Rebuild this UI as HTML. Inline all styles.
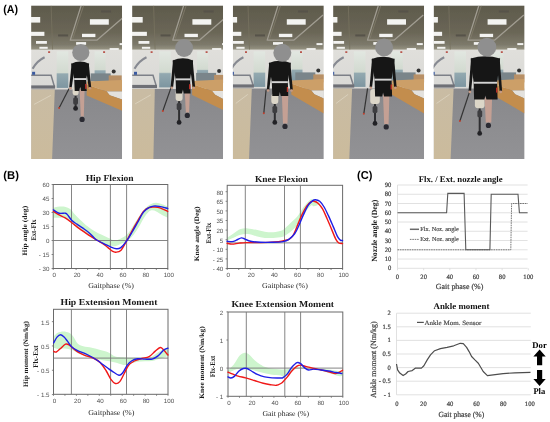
<!DOCTYPE html>
<html><head><meta charset="utf-8"><title>Figure</title>
<style>
html,body{margin:0;padding:0;background:#fff;}
body{width:550px;height:422px;overflow:hidden;position:relative;}
svg{position:absolute;left:0;top:0;display:block;}
text{text-rendering:geometricPrecision;}
</style></head><body>
<svg width="550" height="422" viewBox="0 0 550 422">
<rect width="550" height="422" fill="#fff"/>
<defs><linearGradient id="ceil" x1="0" y1="0" x2="0" y2="1">
<stop offset="0" stop-color="#5e5a4c"/><stop offset="0.6" stop-color="#6a6656"/><stop offset="0.88" stop-color="#7c796a"/><stop offset="1" stop-color="#979483"/></linearGradient>
<linearGradient id="carpet" x1="0" y1="0" x2="0" y2="1">
<stop offset="0" stop-color="#88888b"/><stop offset="1" stop-color="#929295"/></linearGradient>
<linearGradient id="beige" x1="0" y1="0" x2="0" y2="1">
<stop offset="0" stop-color="#c9bca4"/><stop offset="1" stop-color="#cbbb9c"/></linearGradient>
<linearGradient id="wall" x1="0" y1="0" x2="0" y2="1">
<stop offset="0" stop-color="#e0dfdb"/><stop offset="1" stop-color="#d9d9d6"/></linearGradient>
<linearGradient id="win" x1="0" y1="0" x2="0" y2="1">
<stop offset="0" stop-color="#e2e7e1"/><stop offset="0.58" stop-color="#d2dad0"/><stop offset="0.62" stop-color="#93a9b0"/><stop offset="1" stop-color="#7d95a0"/></linearGradient>
<filter id="pblur" x="-5%" y="-5%" width="110%" height="110%"><feGaussianBlur stdDeviation="0.45"/></filter><clipPath id="pc"><rect x="0" y="0" width="91.0" height="153.6"/></clipPath></defs>
<g transform="translate(31.10,5.40)" clip-path="url(#pc)"><g filter="url(#pblur)"><rect x="0" y="0" width="91.0" height="44.4" fill="url(#ceil)"/><path d="M20,0 L21.5,44.4" stroke="#77725f" stroke-width="0.8" fill="none"/><path d="M50.1,0 L39.2,34.7 L66,34.7 L95,9.5" stroke="#a19d92" stroke-width="1.3" fill="none" stroke-linejoin="round"/><path d="M52.6,0 L41.6,33.2" stroke="#85806f" stroke-width="0.7" fill="none"/><rect x="-2.0" y="11.6" width="11.1" height="5.6" fill="#f3f3f1"/><rect x="58.8" y="13.8" width="18.9" height="5.5" fill="#f3f3f1"/><rect x="-2.0" y="26.4" width="15.3" height="4.1" fill="#f3f3f1"/><rect x="50.9" y="28.4" width="13.4" height="3.3" fill="#f3f3f1"/><rect x="4.9" y="35.6" width="10.9" height="2.8" fill="#f3f3f1"/><rect x="45.0" y="36.7" width="10" height="2.7" fill="#f3f3f1"/><rect x="8.3" y="41.4" width="8.3" height="2.0" fill="#f3f3f1"/><rect x="78.5" y="42.7" width="9.2" height="2.1" fill="#f3f3f1"/><rect x="88.5" y="37.7" width="6" height="2.0" fill="#f3f3f1"/><rect x="70" y="5" width="10" height="2" fill="#56524a"/><rect x="27" y="29" width="10" height="2" fill="#56524a"/><rect x="0" y="44.4" width="91.0" height="39.6" fill="url(#wall)"/><rect x="25.6" y="45.9" width="11.6" height="36.6" fill="url(#win)"/><rect x="63.5" y="45.9" width="11" height="31.6" fill="url(#win)"/><rect x="17" y="45.9" width="2" height="1.6" fill="#b5473e"/><rect x="72" y="45.9" width="2" height="1.6" fill="#b5473e"/><path d="M1.5,63.4 Q6.0,55.4 13.5,51.9" stroke="#878a92" stroke-width="2.2" fill="none"/><path d="M0,69.9 L20.0,69.9 L23.4,81.5" stroke="#7d8088" stroke-width="1.5" fill="none"/><rect x="0" y="80.0" width="24.0" height="3.2" fill="#6e7076"/><rect x="1.0" y="66.4" width="3" height="3" fill="#3a5aa0"/><rect x="0" y="84.0" width="91.0" height="69.6" fill="url(#carpet)"/><path d="M0,84.0 L23.7,84.0 L21.0,153.6 L0,153.6 Z" fill="url(#beige)"/><path d="M3,99.0 L19.7,90.0" stroke="#ddd4c2" stroke-width="0.8"/><rect x="59.6" y="68.0" width="20" height="8" fill="#7a858a"/><rect x="77.6" y="70.0" width="13" height="8" fill="#b89066"/><circle cx="82.6" cy="66.0" r="2" fill="#333"/><path d="M55.6,76.0 L91.0,74.5 L91.0,86.0 L75.6,86.0 L55.6,79.0 Z" fill="#cc9f68"/><path d="M75.6,86.0 L91.0,86.0 L91.0,94.0 L78.6,89.8 Z" fill="#e3e1dd"/><path d="M55.6,79.0 L75.6,86.0 L78.6,89.8 L91.0,94.0 L91.0,105.4 L55.6,90.0 Z" fill="#c38d4d"/><line x1="38.0" y1="83.0" x2="28.0" y2="102.6" stroke="#333" stroke-width="1.2"/><circle cx="28.0" cy="102.6" r="1.0" fill="#c4412e"/><rect x="43.5" y="90.0" width="2.0" height="13.0" fill="#2e2e30"/><rect x="42.1" y="92.0" width="4.8" height="7" rx="1.5" fill="#3d3d40"/><ellipse cx="44.5" cy="103.0" rx="2.4" ry="2.4" fill="#232326"/><rect x="41.5" y="80.5" width="6.0" height="9.5" rx="3" fill="#dcd6c8"/><path d="M48.5,83.5 L53.5,83.5 L52.7,111.0 L49.7,111.0 Z" fill="#c4a094"/><ellipse cx="51.0" cy="114.0" rx="2.6" ry="2.6" fill="#2a2a30"/><path d="M43.1,73.5 L55.1,73.5 L55.6,85.5 L50.1,85.5 L49.1,81.5 L48.1,85.5 L43.6,85.5 Z" fill="#161616"/><rect x="54.1" y="78.5" width="1.3" height="5" fill="#c8302a"/><path d="M40.6,57.3 L38.1,82.0 L40.6,82.0 L43.1,65.3 Z" fill="#171717"/><path d="M57.6,57.3 L60.1,82.0 L57.6,82.0 L55.1,65.3 Z" fill="#171717"/><circle cx="39.4" cy="82.8" r="1.3" fill="#c49a86"/><circle cx="58.8" cy="82.8" r="1.3" fill="#c49a86"/><path d="M40.1,58.3 Q49.1,53.8 58.1,58.3 L55.1,73.5 L43.1,73.5 Z" fill="#171717"/><rect x="43.1" y="72.7" width="12.0" height="1.9" fill="#d4d4d4"/><circle cx="49.7" cy="47.1" r="8.6" fill="#8f8f8f"/></g></g>
<g transform="translate(132.10,5.40)" clip-path="url(#pc)"><g filter="url(#pblur)"><rect x="0" y="0" width="91.0" height="44.4" fill="url(#ceil)"/><path d="M21.5,0 L23.0,44.4" stroke="#77725f" stroke-width="0.8" fill="none"/><path d="M51.6,0 L40.7,34.7 L67.5,34.7 L96.5,9.5" stroke="#a19d92" stroke-width="1.3" fill="none" stroke-linejoin="round"/><path d="M54.1,0 L43.1,33.2" stroke="#85806f" stroke-width="0.7" fill="none"/><rect x="-0.5" y="11.6" width="11.1" height="5.6" fill="#f3f3f1"/><rect x="60.3" y="13.8" width="18.9" height="5.5" fill="#f3f3f1"/><rect x="-0.5" y="26.4" width="15.3" height="4.1" fill="#f3f3f1"/><rect x="52.4" y="28.4" width="13.4" height="3.3" fill="#f3f3f1"/><rect x="6.4" y="35.6" width="10.9" height="2.8" fill="#f3f3f1"/><rect x="46.5" y="36.7" width="10" height="2.7" fill="#f3f3f1"/><rect x="9.8" y="41.4" width="8.3" height="2.0" fill="#f3f3f1"/><rect x="80.0" y="42.7" width="9.2" height="2.1" fill="#f3f3f1"/><rect x="90.0" y="37.7" width="6" height="2.0" fill="#f3f3f1"/><rect x="71.5" y="5" width="10" height="2" fill="#56524a"/><rect x="28.5" y="29" width="10" height="2" fill="#56524a"/><rect x="0" y="44.4" width="91.0" height="39.1" fill="url(#wall)"/><rect x="27.1" y="45.9" width="11.6" height="36.1" fill="url(#win)"/><rect x="65.0" y="45.9" width="11" height="31.1" fill="url(#win)"/><rect x="18.5" y="45.9" width="2" height="1.6" fill="#b5473e"/><rect x="73.5" y="45.9" width="2" height="1.6" fill="#b5473e"/><path d="M2.4,63.4 Q6.9,55.4 14.4,51.9" stroke="#878a92" stroke-width="2.2" fill="none"/><path d="M0,69.9 L20.9,69.9 L24.299999999999997,81.0" stroke="#7d8088" stroke-width="1.5" fill="none"/><rect x="0" y="79.5" width="24.9" height="3.2" fill="#6e7076"/><rect x="1.9" y="66.4" width="3" height="3" fill="#3a5aa0"/><rect x="0" y="83.5" width="91.0" height="70.1" fill="url(#carpet)"/><path d="M0,83.5 L22.7,83.5 L21.3,153.6 L0,153.6 Z" fill="url(#beige)"/><path d="M3,98.5 L18.7,89.5" stroke="#ddd4c2" stroke-width="0.8"/><rect x="64.0" y="67.5" width="20" height="8" fill="#7a858a"/><rect x="82.0" y="69.5" width="13" height="8" fill="#b89066"/><circle cx="87.0" cy="65.5" r="2" fill="#333"/><path d="M60.0,75.5 L91.0,74.0 L91.0,85.5 L80.0,85.5 L60.0,78.5 Z" fill="#cc9f68"/><path d="M80.0,85.5 L91.0,85.5 L91.0,93.5 L83.0,89.3 Z" fill="#e3e1dd"/><path d="M60.0,78.5 L80.0,85.5 L83.0,89.3 L91.0,93.5 L91.0,104.5 L60.0,89.5 Z" fill="#c38d4d"/><line x1="39.2" y1="81.5" x2="30.7" y2="105.6" stroke="#333" stroke-width="1.2"/><circle cx="30.7" cy="105.6" r="1.0" fill="#c4412e"/><rect x="46.0" y="95.7" width="2.0" height="21.3" fill="#2e2e30"/><rect x="44.6" y="97.7" width="4.8" height="7" rx="1.5" fill="#3d3d40"/><ellipse cx="47.0" cy="117.0" rx="2.4" ry="2.4" fill="#232326"/><rect x="43.5" y="84.3" width="7.0" height="11.4" rx="3" fill="#dcd6c8"/><path d="M52.6,86.0 L57.8,86.0 L57.0,107.0 L53.8,107.0 Z" fill="#c4a094"/><ellipse cx="55.2" cy="110.0" rx="2.6" ry="2.6" fill="#2a2a30"/><path d="M43.5,73.8 L58.0,73.8 L58.5,88.0 L51.8,88.0 L50.8,84.0 L49.8,88.0 L44.0,88.0 Z" fill="#161616"/><rect x="57.0" y="78.8" width="1.3" height="5" fill="#c8302a"/><path d="M41.0,54.0 L38.5,81.5 L41.0,81.5 L43.5,62.0 Z" fill="#171717"/><path d="M60.5,54.0 L63.0,81.5 L60.5,81.5 L58.0,62.0 Z" fill="#171717"/><circle cx="39.8" cy="82.3" r="1.3" fill="#c49a86"/><circle cx="61.7" cy="82.3" r="1.3" fill="#c49a86"/><path d="M40.5,55.0 Q50.8,50.5 61.0,55.0 L58.0,73.8 L43.5,73.8 Z" fill="#171717"/><rect x="43.5" y="73.0" width="14.5" height="1.9" fill="#d4d4d4"/><circle cx="52.0" cy="42.6" r="9.0" fill="#8f8f8f"/></g></g>
<g transform="translate(232.80,5.40)" clip-path="url(#pc)"><g filter="url(#pblur)"><rect x="0" y="0" width="91.0" height="44.4" fill="url(#ceil)"/><path d="M15.2,0 L16.7,44.4" stroke="#77725f" stroke-width="0.8" fill="none"/><path d="M45.300000000000004,0 L34.400000000000006,34.7 L61.2,34.7 L90.2,9.5" stroke="#a19d92" stroke-width="1.3" fill="none" stroke-linejoin="round"/><path d="M47.800000000000004,0 L36.800000000000004,33.2" stroke="#85806f" stroke-width="0.7" fill="none"/><rect x="-6.8" y="11.6" width="11.1" height="5.6" fill="#f3f3f1"/><rect x="54.0" y="13.8" width="18.9" height="5.5" fill="#f3f3f1"/><rect x="-6.8" y="26.4" width="15.3" height="4.1" fill="#f3f3f1"/><rect x="46.1" y="28.4" width="13.4" height="3.3" fill="#f3f3f1"/><rect x="0.1" y="35.6" width="10.9" height="2.8" fill="#f3f3f1"/><rect x="40.2" y="36.7" width="10" height="2.7" fill="#f3f3f1"/><rect x="3.5" y="41.4" width="8.3" height="2.0" fill="#f3f3f1"/><rect x="73.7" y="42.7" width="9.2" height="2.1" fill="#f3f3f1"/><rect x="83.7" y="37.7" width="6" height="2.0" fill="#f3f3f1"/><rect x="65.2" y="5" width="10" height="2" fill="#56524a"/><rect x="22.2" y="29" width="10" height="2" fill="#56524a"/><rect x="0" y="44.4" width="91.0" height="38.6" fill="url(#wall)"/><rect x="20.8" y="45.9" width="11.6" height="35.6" fill="url(#win)"/><rect x="58.7" y="45.9" width="11" height="30.6" fill="url(#win)"/><rect x="12.2" y="45.9" width="2" height="1.6" fill="#b5473e"/><rect x="67.2" y="45.9" width="2" height="1.6" fill="#b5473e"/><path d="M-1.38,63.4 Q3.12,55.4 10.620000000000001,51.9" stroke="#878a92" stroke-width="2.2" fill="none"/><path d="M0,69.9 L17.12,69.9 L20.52,80.5" stroke="#7d8088" stroke-width="1.5" fill="none"/><rect x="0" y="79.0" width="21.12" height="3.2" fill="#6e7076"/><rect x="-1.88" y="66.4" width="3" height="3" fill="#3a5aa0"/><rect x="0" y="83.0" width="91.0" height="70.6" fill="url(#carpet)"/><path d="M0,83.0 L19.0,83.0 L16.2,153.6 L0,153.6 Z" fill="url(#beige)"/><path d="M3,98.0 L15.0,89.0" stroke="#ddd4c2" stroke-width="0.8"/><rect x="62.5" y="67.0" width="20" height="8" fill="#7a858a"/><rect x="80.5" y="69.0" width="13" height="8" fill="#b89066"/><circle cx="85.5" cy="65.0" r="2" fill="#333"/><path d="M58.5,75.0 L91.0,73.5 L91.0,85.0 L78.5,85.0 L58.5,78.0 Z" fill="#cc9f68"/><path d="M78.5,85.0 L91.0,85.0 L91.0,93.0 L81.5,88.8 Z" fill="#e3e1dd"/><path d="M58.5,78.0 L78.5,85.0 L81.5,88.8 L91.0,93.0 L91.0,108.0 L58.5,89.0 Z" fill="#c38d4d"/><line x1="33.3" y1="84.3" x2="31.0" y2="107.9" stroke="#333" stroke-width="1.2"/><circle cx="31.0" cy="107.9" r="1.0" fill="#c4412e"/><rect x="41.0" y="98.5" width="2.0" height="18.5" fill="#2e2e30"/><rect x="39.6" y="100.5" width="4.8" height="7" rx="1.5" fill="#3d3d40"/><ellipse cx="42.0" cy="117.0" rx="2.4" ry="2.4" fill="#232326"/><rect x="38.5" y="88.0" width="7.0" height="10.5" rx="3" fill="#dcd6c8"/><path d="M49.0,88.5 L55.5,88.5 L54.7,118.0 L50.2,118.0 Z" fill="#c4a094"/><ellipse cx="52.2" cy="121.0" rx="2.6" ry="2.6" fill="#2a2a30"/><path d="M39.0,76.6 L55.0,76.6 L55.5,90.5 L48.0,90.5 L47.0,86.5 L46.0,90.5 L39.5,90.5 Z" fill="#161616"/><rect x="54.0" y="81.6" width="1.3" height="5" fill="#c8302a"/><path d="M36.5,56.5 L34.0,84.3 L36.5,84.3 L39.0,64.5 Z" fill="#171717"/><path d="M57.5,56.5 L60.0,84.3 L57.5,84.3 L55.0,64.5 Z" fill="#171717"/><circle cx="35.3" cy="85.1" r="1.3" fill="#c49a86"/><circle cx="58.7" cy="85.1" r="1.3" fill="#c49a86"/><path d="M36.0,57.5 Q47.0,53.0 58.0,57.5 L55.0,76.6 L39.0,76.6 Z" fill="#171717"/><rect x="39.0" y="75.8" width="16.0" height="1.9" fill="#d4d4d4"/><circle cx="49.5" cy="47.4" r="9.0" fill="#8f8f8f"/></g></g>
<g transform="translate(333.10,5.40)" clip-path="url(#pc)"><g filter="url(#pblur)"><rect x="0" y="0" width="91.0" height="44.4" fill="url(#ceil)"/><path d="M15.2,0 L16.7,44.4" stroke="#77725f" stroke-width="0.8" fill="none"/><path d="M45.300000000000004,0 L34.400000000000006,34.7 L61.2,34.7 L90.2,9.5" stroke="#a19d92" stroke-width="1.3" fill="none" stroke-linejoin="round"/><path d="M47.800000000000004,0 L36.800000000000004,33.2" stroke="#85806f" stroke-width="0.7" fill="none"/><rect x="-6.8" y="11.6" width="11.1" height="5.6" fill="#f3f3f1"/><rect x="54.0" y="13.8" width="18.9" height="5.5" fill="#f3f3f1"/><rect x="-6.8" y="26.4" width="15.3" height="4.1" fill="#f3f3f1"/><rect x="46.1" y="28.4" width="13.4" height="3.3" fill="#f3f3f1"/><rect x="0.1" y="35.6" width="10.9" height="2.8" fill="#f3f3f1"/><rect x="40.2" y="36.7" width="10" height="2.7" fill="#f3f3f1"/><rect x="3.5" y="41.4" width="8.3" height="2.0" fill="#f3f3f1"/><rect x="73.7" y="42.7" width="9.2" height="2.1" fill="#f3f3f1"/><rect x="83.7" y="37.7" width="6" height="2.0" fill="#f3f3f1"/><rect x="65.2" y="5" width="10" height="2" fill="#56524a"/><rect x="22.2" y="29" width="10" height="2" fill="#56524a"/><rect x="0" y="44.4" width="91.0" height="38.6" fill="url(#wall)"/><rect x="20.8" y="45.9" width="11.6" height="35.6" fill="url(#win)"/><rect x="58.7" y="45.9" width="11" height="30.6" fill="url(#win)"/><rect x="12.2" y="45.9" width="2" height="1.6" fill="#b5473e"/><rect x="67.2" y="45.9" width="2" height="1.6" fill="#b5473e"/><path d="M-1.38,63.4 Q3.12,55.4 10.620000000000001,51.9" stroke="#878a92" stroke-width="2.2" fill="none"/><path d="M0,69.9 L17.12,69.9 L20.52,80.5" stroke="#7d8088" stroke-width="1.5" fill="none"/><rect x="0" y="79.0" width="21.12" height="3.2" fill="#6e7076"/><rect x="-1.88" y="66.4" width="3" height="3" fill="#3a5aa0"/><rect x="0" y="83.0" width="91.0" height="70.6" fill="url(#carpet)"/><path d="M0,83.0 L19.0,83.0 L16.2,153.6 L0,153.6 Z" fill="url(#beige)"/><path d="M3,98.0 L15.0,89.0" stroke="#ddd4c2" stroke-width="0.8"/><rect x="62.5" y="67.0" width="20" height="8" fill="#7a858a"/><rect x="80.5" y="69.0" width="13" height="8" fill="#b89066"/><circle cx="85.5" cy="65.0" r="2" fill="#333"/><path d="M58.5,75.0 L91.0,73.5 L91.0,85.0 L78.5,85.0 L58.5,78.0 Z" fill="#cc9f68"/><path d="M78.5,85.0 L91.0,85.0 L91.0,93.0 L81.5,88.8 Z" fill="#e3e1dd"/><path d="M58.5,78.0 L78.5,85.0 L81.5,88.8 L91.0,93.0 L91.0,108.0 L58.5,89.0 Z" fill="#c38d4d"/><line x1="34.5" y1="83.0" x2="30.7" y2="108.3" stroke="#333" stroke-width="1.2"/><circle cx="30.7" cy="108.3" r="1.0" fill="#c4412e"/><rect x="40.9" y="98.7" width="2.0" height="19.3" fill="#2e2e30"/><rect x="39.5" y="100.7" width="4.8" height="7" rx="1.5" fill="#3d3d40"/><ellipse cx="41.9" cy="118.0" rx="2.4" ry="2.4" fill="#232326"/><rect x="37.1" y="83.7" width="9.6" height="15.0" rx="3" fill="#dcd6c8"/><path d="M49.9,89.2 L56.3,89.2 L55.5,118.5 L51.1,118.5 Z" fill="#c4a094"/><ellipse cx="53.1" cy="121.5" rx="2.6" ry="2.6" fill="#2a2a30"/><path d="M41.5,74.1 L58.5,74.1 L59.0,91.2 L51.0,91.2 L50.0,87.2 L49.0,91.2 L42.0,91.2 Z" fill="#161616"/><rect x="57.5" y="79.1" width="1.3" height="5" fill="#c8302a"/><path d="M39.0,52.6 L36.5,81.5 L39.0,81.5 L41.5,60.6 Z" fill="#171717"/><path d="M61.0,52.6 L63.5,81.5 L61.0,81.5 L58.5,60.6 Z" fill="#171717"/><circle cx="37.8" cy="82.3" r="1.3" fill="#c49a86"/><circle cx="62.2" cy="82.3" r="1.3" fill="#c49a86"/><path d="M38.5,53.6 Q50.0,49.1 61.5,53.6 L58.5,74.1 L41.5,74.1 Z" fill="#171717"/><rect x="41.5" y="73.3" width="17.0" height="1.9" fill="#d4d4d4"/><circle cx="51.0" cy="42.1" r="9.0" fill="#8f8f8f"/></g></g>
<g transform="translate(433.60,5.40)" clip-path="url(#pc)"><g filter="url(#pblur)"><rect x="0" y="0" width="91.0" height="44.4" fill="url(#ceil)"/><path d="M15.2,0 L16.7,44.4" stroke="#77725f" stroke-width="0.8" fill="none"/><path d="M45.300000000000004,0 L34.400000000000006,34.7 L61.2,34.7 L90.2,9.5" stroke="#a19d92" stroke-width="1.3" fill="none" stroke-linejoin="round"/><path d="M47.800000000000004,0 L36.800000000000004,33.2" stroke="#85806f" stroke-width="0.7" fill="none"/><rect x="-6.8" y="11.6" width="11.1" height="5.6" fill="#f3f3f1"/><rect x="54.0" y="13.8" width="18.9" height="5.5" fill="#f3f3f1"/><rect x="-6.8" y="26.4" width="15.3" height="4.1" fill="#f3f3f1"/><rect x="46.1" y="28.4" width="13.4" height="3.3" fill="#f3f3f1"/><rect x="0.1" y="35.6" width="10.9" height="2.8" fill="#f3f3f1"/><rect x="40.2" y="36.7" width="10" height="2.7" fill="#f3f3f1"/><rect x="3.5" y="41.4" width="8.3" height="2.0" fill="#f3f3f1"/><rect x="73.7" y="42.7" width="9.2" height="2.1" fill="#f3f3f1"/><rect x="83.7" y="37.7" width="6" height="2.0" fill="#f3f3f1"/><rect x="65.2" y="5" width="10" height="2" fill="#56524a"/><rect x="22.2" y="29" width="10" height="2" fill="#56524a"/><rect x="0" y="44.4" width="91.0" height="38.6" fill="url(#wall)"/><rect x="20.8" y="45.9" width="11.6" height="35.6" fill="url(#win)"/><rect x="58.7" y="45.9" width="11" height="30.6" fill="url(#win)"/><rect x="12.2" y="45.9" width="2" height="1.6" fill="#b5473e"/><rect x="67.2" y="45.9" width="2" height="1.6" fill="#b5473e"/><path d="M-1.38,63.4 Q3.12,55.4 10.620000000000001,51.9" stroke="#878a92" stroke-width="2.2" fill="none"/><path d="M0,69.9 L17.12,69.9 L20.52,80.5" stroke="#7d8088" stroke-width="1.5" fill="none"/><rect x="0" y="79.0" width="21.12" height="3.2" fill="#6e7076"/><rect x="-1.88" y="66.4" width="3" height="3" fill="#3a5aa0"/><rect x="0" y="83.0" width="91.0" height="70.6" fill="url(#carpet)"/><path d="M0,83.0 L20.0,83.0 L17.0,153.6 L0,153.6 Z" fill="url(#beige)"/><path d="M3,98.0 L16.0,89.0" stroke="#ddd4c2" stroke-width="0.8"/><rect x="62.5" y="67.0" width="20" height="8" fill="#7a858a"/><rect x="80.5" y="69.0" width="13" height="8" fill="#b89066"/><circle cx="85.5" cy="65.0" r="2" fill="#333"/><path d="M58.5,75.0 L91.0,73.5 L91.0,85.0 L78.5,85.0 L58.5,78.0 Z" fill="#cc9f68"/><path d="M78.5,85.0 L91.0,85.0 L91.0,93.0 L81.5,88.8 Z" fill="#e3e1dd"/><path d="M58.5,78.0 L78.5,85.0 L81.5,88.8 L91.0,93.0 L91.0,108.0 L58.5,89.0 Z" fill="#c38d4d"/><line x1="36.2" y1="85.7" x2="26.3" y2="115.6" stroke="#333" stroke-width="1.2"/><circle cx="26.3" cy="115.6" r="1.0" fill="#c4412e"/><rect x="45.1" y="102.8" width="2.0" height="25.2" fill="#2e2e30"/><rect x="43.8" y="104.8" width="4.8" height="7" rx="1.5" fill="#3d3d40"/><ellipse cx="46.1" cy="128.0" rx="2.4" ry="2.4" fill="#232326"/><rect x="41.3" y="87.2" width="9.7" height="15.6" rx="3" fill="#dcd6c8"/><path d="M51.0,92.0 L58.5,92.0 L57.7,117.0 L52.2,117.0 Z" fill="#c4a094"/><ellipse cx="54.8" cy="120.0" rx="2.6" ry="2.6" fill="#2a2a30"/><path d="M40.0,77.2 L63.5,77.2 L64.0,94.0 L52.8,94.0 L51.8,90.0 L50.8,94.0 L40.5,94.0 Z" fill="#161616"/><rect x="62.5" y="82.2" width="1.3" height="5" fill="#c8302a"/><path d="M37.5,52.2 L35.0,85.7 L37.5,85.7 L40.0,60.2 Z" fill="#171717"/><path d="M66.0,52.2 L68.5,85.7 L66.0,85.7 L63.5,60.2 Z" fill="#171717"/><circle cx="36.3" cy="86.5" r="1.3" fill="#c49a86"/><circle cx="67.2" cy="86.5" r="1.3" fill="#c49a86"/><path d="M37.0,53.2 Q51.8,48.7 66.5,53.2 L63.5,77.2 L40.0,77.2 Z" fill="#171717"/><rect x="40.0" y="76.4" width="23.5" height="1.9" fill="#d4d4d4"/><circle cx="53.3" cy="41.7" r="9.4" fill="#8f8f8f"/></g></g>
<text x="3.30" y="13.10" font-size="11.4" font-family="'Liberation Sans', sans-serif" fill="#000" font-weight="700" textLength="14.80" lengthAdjust="spacingAndGlyphs">(A)</text>
<text x="3.30" y="179.00" font-size="11.4" font-family="'Liberation Sans', sans-serif" fill="#000" font-weight="700" textLength="15.60" lengthAdjust="spacingAndGlyphs">(B)</text>
<text x="357.10" y="179.10" font-size="11.4" font-family="'Liberation Sans', sans-serif" fill="#000" font-weight="700" textLength="15.30" lengthAdjust="spacingAndGlyphs">(C)</text>
<path d="M53.40,207.80 C54.12,207.62 55.80,206.88 57.70,206.70 C59.60,206.52 62.67,206.28 64.80,206.70 C66.93,207.12 68.85,207.95 70.50,209.20 C72.15,210.45 73.05,212.42 74.70,214.20 C76.35,215.98 78.27,217.88 80.40,219.90 C82.53,221.92 85.12,224.40 87.50,226.30 C89.88,228.20 92.32,229.88 94.70,231.30 C97.08,232.72 99.58,233.73 101.80,234.80 C104.02,235.87 105.78,236.75 108.00,237.70 C110.22,238.65 112.73,240.50 115.10,240.50 C117.47,240.50 120.07,238.88 122.20,237.70 C124.33,236.52 126.00,235.53 127.90,233.40 C129.80,231.27 131.70,227.75 133.60,224.90 C135.50,222.05 137.40,219.03 139.30,216.30 C141.20,213.57 143.10,210.52 145.00,208.50 C146.90,206.48 148.82,205.15 150.70,204.20 C152.58,203.25 154.42,202.80 156.30,202.80 C158.18,202.80 160.10,203.60 162.00,204.20 C163.90,204.80 166.75,206.03 167.70,206.40 L167.70,217.70 C166.75,217.23 163.90,215.95 162.00,214.90 C160.10,213.85 158.18,212.12 156.30,211.40 C154.42,210.68 152.58,209.78 150.70,210.60 C148.82,211.42 146.90,213.68 145.00,216.30 C143.10,218.92 141.20,223.22 139.30,226.30 C137.40,229.38 135.50,232.43 133.60,234.80 C131.70,237.17 129.80,239.08 127.90,240.50 C126.00,241.92 124.33,242.35 122.20,243.30 C120.07,244.25 117.13,245.83 115.10,246.20 C113.07,246.57 111.75,245.78 110.00,245.50 C108.25,245.22 106.68,245.25 104.60,244.50 C102.52,243.75 99.87,242.33 97.50,241.00 C95.13,239.67 92.77,238.08 90.40,236.50 C88.03,234.92 85.43,233.02 83.30,231.50 C81.17,229.98 79.50,228.90 77.60,227.40 C75.70,225.90 73.92,223.98 71.90,222.50 C69.88,221.02 67.63,219.30 65.50,218.50 C63.37,217.70 61.12,217.83 59.10,217.70 C57.08,217.57 54.35,217.70 53.40,217.70 Z" fill="#cdf5cd" stroke="none"/>
<rect x="53.20" y="184.50" width="114.60" height="84.00" fill="none" stroke="#6a6a6a" stroke-width="1"/>
<line x1="71.50" y1="184.50" x2="71.50" y2="268.50" stroke="#777" stroke-width="0.9"/>
<line x1="110.40" y1="184.50" x2="110.40" y2="268.50" stroke="#777" stroke-width="0.9"/>
<line x1="126.60" y1="184.50" x2="126.60" y2="268.50" stroke="#777" stroke-width="0.9"/>
<line x1="53.20" y1="240.50" x2="167.80" y2="240.50" stroke="#777" stroke-width="0.9"/>
<line x1="51.60" y1="184.50" x2="53.20" y2="184.50" stroke="#6a6a6a" stroke-width="0.8"/>
<text x="49.50" y="187.40" font-size="6.2" font-family="'Liberation Sans', sans-serif" fill="#505050" text-anchor="end">60</text>
<line x1="51.60" y1="198.50" x2="53.20" y2="198.50" stroke="#6a6a6a" stroke-width="0.8"/>
<text x="49.50" y="201.40" font-size="6.2" font-family="'Liberation Sans', sans-serif" fill="#505050" text-anchor="end">45</text>
<line x1="51.60" y1="212.50" x2="53.20" y2="212.50" stroke="#6a6a6a" stroke-width="0.8"/>
<text x="49.50" y="215.40" font-size="6.2" font-family="'Liberation Sans', sans-serif" fill="#505050" text-anchor="end">30</text>
<line x1="51.60" y1="226.50" x2="53.20" y2="226.50" stroke="#6a6a6a" stroke-width="0.8"/>
<text x="49.50" y="229.40" font-size="6.2" font-family="'Liberation Sans', sans-serif" fill="#505050" text-anchor="end">15</text>
<line x1="51.60" y1="240.50" x2="53.20" y2="240.50" stroke="#6a6a6a" stroke-width="0.8"/>
<text x="49.50" y="243.40" font-size="6.2" font-family="'Liberation Sans', sans-serif" fill="#505050" text-anchor="end">0</text>
<line x1="51.60" y1="254.50" x2="53.20" y2="254.50" stroke="#6a6a6a" stroke-width="0.8"/>
<text x="49.50" y="257.40" font-size="6.2" font-family="'Liberation Sans', sans-serif" fill="#505050" text-anchor="end">- 15</text>
<line x1="51.60" y1="268.50" x2="53.20" y2="268.50" stroke="#6a6a6a" stroke-width="0.8"/>
<text x="49.50" y="271.40" font-size="6.2" font-family="'Liberation Sans', sans-serif" fill="#505050" text-anchor="end">- 30</text>
<line x1="53.20" y1="268.50" x2="53.20" y2="270.00" stroke="#6a6a6a" stroke-width="0.8"/>
<text x="54.20" y="277.10" font-size="6.2" font-family="'Liberation Sans', sans-serif" fill="#505050" text-anchor="middle">0</text>
<line x1="64.66" y1="268.50" x2="64.66" y2="270.00" stroke="#6a6a6a" stroke-width="0.8"/>
<line x1="76.12" y1="268.50" x2="76.12" y2="270.00" stroke="#6a6a6a" stroke-width="0.8"/>
<text x="77.12" y="277.10" font-size="6.2" font-family="'Liberation Sans', sans-serif" fill="#505050" text-anchor="middle">20</text>
<line x1="87.58" y1="268.50" x2="87.58" y2="270.00" stroke="#6a6a6a" stroke-width="0.8"/>
<line x1="99.04" y1="268.50" x2="99.04" y2="270.00" stroke="#6a6a6a" stroke-width="0.8"/>
<text x="100.04" y="277.10" font-size="6.2" font-family="'Liberation Sans', sans-serif" fill="#505050" text-anchor="middle">40</text>
<line x1="110.50" y1="268.50" x2="110.50" y2="270.00" stroke="#6a6a6a" stroke-width="0.8"/>
<line x1="121.96" y1="268.50" x2="121.96" y2="270.00" stroke="#6a6a6a" stroke-width="0.8"/>
<text x="122.96" y="277.10" font-size="6.2" font-family="'Liberation Sans', sans-serif" fill="#505050" text-anchor="middle">60</text>
<line x1="133.42" y1="268.50" x2="133.42" y2="270.00" stroke="#6a6a6a" stroke-width="0.8"/>
<line x1="144.88" y1="268.50" x2="144.88" y2="270.00" stroke="#6a6a6a" stroke-width="0.8"/>
<text x="145.88" y="277.10" font-size="6.2" font-family="'Liberation Sans', sans-serif" fill="#505050" text-anchor="middle">80</text>
<line x1="156.34" y1="268.50" x2="156.34" y2="270.00" stroke="#6a6a6a" stroke-width="0.8"/>
<line x1="167.80" y1="268.50" x2="167.80" y2="270.00" stroke="#6a6a6a" stroke-width="0.8"/>
<text x="168.80" y="277.10" font-size="6.2" font-family="'Liberation Sans', sans-serif" fill="#505050" text-anchor="middle">100</text>
<text x="85.70" y="180.90" font-size="9" font-family="'Liberation Serif', serif" fill="#1a1a1a" font-weight="700" textLength="48.00" lengthAdjust="spacingAndGlyphs">Hip Flexion</text>
<text x="88.20" y="288.20" font-size="7.5" font-family="'Liberation Serif', serif" fill="#262626" textLength="45.80" lengthAdjust="spacingAndGlyphs">Gaitphase (%)</text>
<text x="26.60" y="255.50" font-size="6.8" font-family="'Liberation Serif', serif" fill="#1a1a1a" font-weight="700" textLength="49.70" lengthAdjust="spacingAndGlyphs" transform="rotate(-90 26.60 255.50)">Hip angle (deg)</text>
<text x="36.40" y="240.60" font-size="7.2" font-family="'Liberation Serif', serif" fill="#1a1a1a" font-weight="700" textLength="21.10" lengthAdjust="spacingAndGlyphs" transform="rotate(-90 36.40 240.60)">Ext-Flx</text>
<path d="M53.40,211.40 C54.35,211.98 57.20,213.85 59.10,214.90 C61.00,215.95 62.67,216.40 64.80,217.70 C66.93,219.00 69.77,221.08 71.90,222.70 C74.03,224.32 75.70,225.97 77.60,227.40 C79.50,228.83 81.17,229.83 83.30,231.30 C85.43,232.77 88.03,234.67 90.40,236.20 C92.77,237.73 95.13,239.07 97.50,240.50 C99.87,241.93 102.85,243.62 104.60,244.80 C106.35,245.98 106.72,246.53 108.00,247.60 C109.28,248.67 111.00,250.43 112.30,251.20 C113.60,251.97 114.38,252.32 115.80,252.20 C117.22,252.08 119.02,252.33 120.80,250.50 C122.58,248.67 124.60,244.53 126.50,241.20 C128.40,237.87 130.30,233.93 132.20,230.50 C134.10,227.07 136.02,223.78 137.90,220.60 C139.78,217.42 141.62,213.58 143.50,211.40 C145.38,209.22 147.30,208.22 149.20,207.50 C151.10,206.78 153.00,207.00 154.90,207.10 C156.80,207.20 158.47,207.38 160.60,208.10 C162.73,208.82 166.52,210.85 167.70,211.40" fill="none" stroke="#f01818" stroke-width="1.4" stroke-linejoin="round" stroke-linecap="round"/>
<path d="M53.40,209.90 C54.35,210.45 57.08,212.65 59.10,213.20 C61.12,213.75 64.08,212.92 65.50,213.20 C66.92,213.48 66.53,213.67 67.60,214.90 C68.67,216.13 70.35,219.07 71.90,220.60 C73.45,222.13 75.00,222.80 76.90,224.10 C78.80,225.40 81.28,226.97 83.30,228.40 C85.32,229.83 87.10,231.03 89.00,232.70 C90.90,234.37 93.28,237.10 94.70,238.40 C96.12,239.70 95.85,239.55 97.50,240.50 C99.15,241.45 102.42,243.03 104.60,244.10 C106.78,245.17 108.62,246.13 110.60,246.90 C112.58,247.67 114.80,248.58 116.50,248.70 C118.20,248.82 119.13,248.85 120.80,247.60 C122.47,246.35 124.60,243.80 126.50,241.20 C128.40,238.60 130.30,235.20 132.20,232.00 C134.10,228.80 136.02,225.32 137.90,222.00 C139.78,218.68 141.62,214.52 143.50,212.10 C145.38,209.68 147.53,208.50 149.20,207.50 C150.87,206.50 151.83,206.28 153.50,206.10 C155.17,205.92 156.83,206.00 159.20,206.40 C161.57,206.80 166.28,208.15 167.70,208.50" fill="none" stroke="#1f1fe6" stroke-width="1.4" stroke-linejoin="round" stroke-linecap="round"/>
<path d="M227.10,237.70 C228.17,236.98 231.25,234.83 233.50,233.40 C235.75,231.97 238.22,229.93 240.60,229.10 C242.98,228.27 245.18,228.28 247.80,228.40 C250.42,228.52 253.47,229.25 256.30,229.80 C259.13,230.35 261.97,231.28 264.80,231.70 C267.63,232.12 270.45,232.50 273.30,232.30 C276.15,232.10 280.12,231.03 281.90,230.50 C283.68,229.97 282.60,230.32 284.00,229.10 C285.40,227.88 288.02,225.40 290.30,223.20 C292.58,221.00 295.48,218.60 297.70,215.90 C299.92,213.20 301.65,209.58 303.60,207.00 C305.55,204.42 307.93,201.70 309.40,200.40 C310.87,199.10 311.17,199.10 312.40,199.20 C313.63,199.30 315.53,200.20 316.80,201.00 C318.07,201.80 319.47,203.50 320.00,204.00 L320.00,204.00 C319.72,204.17 319.32,204.62 318.30,205.00 C317.28,205.38 315.13,206.20 313.90,206.30 C312.67,206.40 312.38,204.50 310.90,205.60 C309.42,206.70 307.20,209.72 305.00,212.90 C302.80,216.08 300.15,221.52 297.70,224.70 C295.25,227.88 292.58,230.08 290.30,232.00 C288.02,233.92 285.40,235.38 284.00,236.20 C282.60,237.02 283.68,236.62 281.90,236.90 C280.12,237.18 276.15,237.73 273.30,237.90 C270.45,238.07 267.63,238.18 264.80,237.90 C261.97,237.62 259.13,236.83 256.30,236.20 C253.47,235.57 250.42,234.33 247.80,234.10 C245.18,233.87 242.98,234.20 240.60,234.80 C238.22,235.40 235.75,236.75 233.50,237.70 C231.25,238.65 228.17,240.03 227.10,240.50 Z" fill="#cdf5cd" stroke="none"/>
<rect x="227.20" y="185.30" width="115.40" height="83.20" fill="none" stroke="#6a6a6a" stroke-width="1"/>
<line x1="245.30" y1="185.30" x2="245.30" y2="268.50" stroke="#777" stroke-width="0.9"/>
<line x1="284.50" y1="185.30" x2="284.50" y2="268.50" stroke="#777" stroke-width="0.9"/>
<line x1="300.40" y1="185.30" x2="300.40" y2="268.50" stroke="#777" stroke-width="0.9"/>
<line x1="227.20" y1="242.90" x2="342.60" y2="242.90" stroke="#777" stroke-width="0.9"/>
<line x1="225.60" y1="191.70" x2="227.20" y2="191.70" stroke="#6a6a6a" stroke-width="0.8"/>
<text x="223.30" y="194.60" font-size="6.2" font-family="'Liberation Sans', sans-serif" fill="#505050" text-anchor="end">80</text>
<line x1="225.60" y1="201.30" x2="227.20" y2="201.30" stroke="#6a6a6a" stroke-width="0.8"/>
<text x="223.30" y="204.20" font-size="6.2" font-family="'Liberation Sans', sans-serif" fill="#505050" text-anchor="end">65</text>
<line x1="225.60" y1="210.90" x2="227.20" y2="210.90" stroke="#6a6a6a" stroke-width="0.8"/>
<text x="223.30" y="213.80" font-size="6.2" font-family="'Liberation Sans', sans-serif" fill="#505050" text-anchor="end">50</text>
<line x1="225.60" y1="220.50" x2="227.20" y2="220.50" stroke="#6a6a6a" stroke-width="0.8"/>
<text x="223.30" y="223.40" font-size="6.2" font-family="'Liberation Sans', sans-serif" fill="#505050" text-anchor="end">35</text>
<line x1="225.60" y1="230.10" x2="227.20" y2="230.10" stroke="#6a6a6a" stroke-width="0.8"/>
<text x="223.30" y="233.00" font-size="6.2" font-family="'Liberation Sans', sans-serif" fill="#505050" text-anchor="end">20</text>
<line x1="225.60" y1="239.70" x2="227.20" y2="239.70" stroke="#6a6a6a" stroke-width="0.8"/>
<text x="223.30" y="242.60" font-size="6.2" font-family="'Liberation Sans', sans-serif" fill="#505050" text-anchor="end">5</text>
<line x1="225.60" y1="249.30" x2="227.20" y2="249.30" stroke="#6a6a6a" stroke-width="0.8"/>
<text x="223.30" y="252.20" font-size="6.2" font-family="'Liberation Sans', sans-serif" fill="#505050" text-anchor="end">- 10</text>
<line x1="225.60" y1="258.90" x2="227.20" y2="258.90" stroke="#6a6a6a" stroke-width="0.8"/>
<text x="223.30" y="261.80" font-size="6.2" font-family="'Liberation Sans', sans-serif" fill="#505050" text-anchor="end">- 25</text>
<line x1="225.60" y1="268.50" x2="227.20" y2="268.50" stroke="#6a6a6a" stroke-width="0.8"/>
<text x="223.30" y="271.40" font-size="6.2" font-family="'Liberation Sans', sans-serif" fill="#505050" text-anchor="end">- 40</text>
<line x1="227.20" y1="268.50" x2="227.20" y2="270.00" stroke="#6a6a6a" stroke-width="0.8"/>
<text x="228.20" y="277.10" font-size="6.2" font-family="'Liberation Sans', sans-serif" fill="#505050" text-anchor="middle">0</text>
<line x1="238.74" y1="268.50" x2="238.74" y2="270.00" stroke="#6a6a6a" stroke-width="0.8"/>
<line x1="250.28" y1="268.50" x2="250.28" y2="270.00" stroke="#6a6a6a" stroke-width="0.8"/>
<text x="251.28" y="277.10" font-size="6.2" font-family="'Liberation Sans', sans-serif" fill="#505050" text-anchor="middle">20</text>
<line x1="261.82" y1="268.50" x2="261.82" y2="270.00" stroke="#6a6a6a" stroke-width="0.8"/>
<line x1="273.36" y1="268.50" x2="273.36" y2="270.00" stroke="#6a6a6a" stroke-width="0.8"/>
<text x="274.36" y="277.10" font-size="6.2" font-family="'Liberation Sans', sans-serif" fill="#505050" text-anchor="middle">40</text>
<line x1="284.90" y1="268.50" x2="284.90" y2="270.00" stroke="#6a6a6a" stroke-width="0.8"/>
<line x1="296.44" y1="268.50" x2="296.44" y2="270.00" stroke="#6a6a6a" stroke-width="0.8"/>
<text x="297.44" y="277.10" font-size="6.2" font-family="'Liberation Sans', sans-serif" fill="#505050" text-anchor="middle">60</text>
<line x1="307.98" y1="268.50" x2="307.98" y2="270.00" stroke="#6a6a6a" stroke-width="0.8"/>
<line x1="319.52" y1="268.50" x2="319.52" y2="270.00" stroke="#6a6a6a" stroke-width="0.8"/>
<text x="320.52" y="277.10" font-size="6.2" font-family="'Liberation Sans', sans-serif" fill="#505050" text-anchor="middle">80</text>
<line x1="331.06" y1="268.50" x2="331.06" y2="270.00" stroke="#6a6a6a" stroke-width="0.8"/>
<line x1="342.60" y1="268.50" x2="342.60" y2="270.00" stroke="#6a6a6a" stroke-width="0.8"/>
<text x="343.60" y="277.10" font-size="6.2" font-family="'Liberation Sans', sans-serif" fill="#505050" text-anchor="middle">100</text>
<text x="255.00" y="182.20" font-size="9" font-family="'Liberation Serif', serif" fill="#1a1a1a" font-weight="700" textLength="52.90" lengthAdjust="spacingAndGlyphs">Knee Flexion</text>
<text x="262.10" y="288.20" font-size="7.5" font-family="'Liberation Serif', serif" fill="#262626" textLength="45.80" lengthAdjust="spacingAndGlyphs">Gaitphase (%)</text>
<text x="199.40" y="261.30" font-size="6.8" font-family="'Liberation Serif', serif" fill="#1a1a1a" font-weight="700" textLength="54.90" lengthAdjust="spacingAndGlyphs" transform="rotate(-90 199.40 261.30)">Knee angle (Deg)</text>
<text x="210.60" y="243.50" font-size="7.2" font-family="'Liberation Serif', serif" fill="#1a1a1a" font-weight="700" textLength="20.80" lengthAdjust="spacingAndGlyphs" transform="rotate(-90 210.60 243.50)">Ext-Flx</text>
<path d="M227.10,243.30 C227.93,243.43 230.08,244.13 232.10,244.10 C234.12,244.07 236.83,243.35 239.20,243.10 C241.57,242.85 242.75,242.68 246.30,242.60 C249.85,242.52 255.75,242.72 260.50,242.60 C265.25,242.48 271.05,242.20 274.80,241.90 C278.55,241.60 280.65,241.22 283.00,240.80 C285.35,240.38 287.18,240.37 288.90,239.40 C290.62,238.43 291.83,237.45 293.30,235.00 C294.77,232.55 296.23,228.13 297.70,224.70 C299.17,221.27 300.63,217.47 302.10,214.40 C303.57,211.33 305.03,208.38 306.50,206.30 C307.97,204.22 309.67,202.75 310.90,201.90 C312.13,201.05 312.67,200.95 313.90,201.20 C315.13,201.45 316.83,202.07 318.30,203.40 C319.77,204.73 321.23,206.63 322.70,209.20 C324.17,211.77 325.63,215.48 327.10,218.80 C328.57,222.12 330.03,225.67 331.50,229.10 C332.97,232.53 334.68,237.08 335.90,239.40 C337.12,241.72 337.70,242.30 338.80,243.00 C339.90,243.70 341.88,243.50 342.50,243.60" fill="none" stroke="#f01818" stroke-width="1.4" stroke-linejoin="round" stroke-linecap="round"/>
<path d="M227.10,241.20 C227.93,241.27 230.55,241.77 232.10,241.60 C233.65,241.43 234.85,240.82 236.40,240.20 C237.95,239.58 239.98,238.08 241.40,237.90 C242.82,237.72 243.37,238.55 244.90,239.10 C246.43,239.65 248.00,240.67 250.60,241.20 C253.20,241.73 256.95,242.12 260.50,242.30 C264.05,242.48 268.15,242.42 271.90,242.30 C275.65,242.18 280.17,242.08 283.00,241.60 C285.83,241.12 286.93,240.75 288.90,239.40 C290.87,238.05 293.08,235.95 294.80,233.50 C296.52,231.05 297.73,227.88 299.20,224.70 C300.67,221.52 302.13,217.58 303.60,214.40 C305.07,211.22 306.53,207.85 308.00,205.60 C309.47,203.35 311.18,201.88 312.40,200.90 C313.62,199.92 314.08,199.65 315.30,199.70 C316.52,199.75 318.23,199.98 319.70,201.20 C321.17,202.42 322.63,204.55 324.10,207.00 C325.57,209.45 327.02,212.72 328.50,215.90 C329.98,219.08 331.52,222.68 333.00,226.10 C334.48,229.52 336.18,234.07 337.40,236.40 C338.62,238.73 339.45,239.42 340.30,240.10 C341.15,240.78 342.13,240.43 342.50,240.50" fill="none" stroke="#1f1fe6" stroke-width="1.4" stroke-linejoin="round" stroke-linecap="round"/>
<path d="M53.70,336.40 C54.37,335.80 56.08,333.63 57.70,332.80 C59.32,331.97 61.50,331.40 63.40,331.40 C65.30,331.40 67.45,331.97 69.10,332.80 C70.75,333.63 71.88,334.62 73.30,336.40 C74.72,338.18 75.93,341.85 77.60,343.50 C79.27,345.15 80.93,345.60 83.30,346.30 C85.67,347.00 88.97,347.10 91.80,347.70 C94.63,348.30 97.60,349.15 100.30,349.90 C103.00,350.65 105.50,351.08 108.00,352.20 C110.50,353.32 112.85,355.75 115.30,356.60 C117.75,357.45 120.25,357.10 122.70,357.30 C125.15,357.50 127.12,357.72 130.00,357.80 C132.88,357.88 136.67,357.85 140.00,357.80 C143.33,357.75 146.77,358.57 150.00,357.50 C153.23,356.43 156.37,353.15 159.40,351.40 C162.43,349.65 166.73,347.73 168.20,347.00 L168.20,355.90 C166.83,356.33 162.68,357.65 160.00,358.50 C157.32,359.35 155.87,360.47 152.10,361.00 C148.33,361.53 141.57,361.08 137.40,361.70 C133.23,362.32 129.55,364.20 127.10,364.70 C124.65,365.20 124.67,365.07 122.70,364.70 C120.73,364.33 117.75,363.12 115.30,362.50 C112.85,361.88 110.50,361.45 108.00,361.00 C105.50,360.55 103.00,360.35 100.30,359.80 C97.60,359.25 95.18,358.67 91.80,357.70 C88.42,356.73 83.30,355.28 80.00,354.00 C76.70,352.72 74.53,350.92 72.00,350.00 C69.47,349.08 66.95,348.63 64.80,348.50 C62.65,348.37 60.95,349.33 59.10,349.20 C57.25,349.07 54.60,347.95 53.70,347.70 Z" fill="#cdf5cd" stroke="none"/>
<rect x="53.50" y="309.30" width="114.50" height="85.00" fill="none" stroke="#6a6a6a" stroke-width="1"/>
<line x1="71.40" y1="309.30" x2="71.40" y2="394.30" stroke="#777" stroke-width="0.9"/>
<line x1="110.60" y1="309.30" x2="110.60" y2="394.30" stroke="#777" stroke-width="0.9"/>
<line x1="126.50" y1="309.30" x2="126.50" y2="394.30" stroke="#777" stroke-width="0.9"/>
<line x1="53.50" y1="358.10" x2="168.00" y2="358.10" stroke="#777" stroke-width="0.9"/>
<line x1="51.90" y1="321.65" x2="53.50" y2="321.65" stroke="#6a6a6a" stroke-width="0.8"/>
<text x="49.50" y="324.55" font-size="6.2" font-family="'Liberation Sans', sans-serif" fill="#505050" text-anchor="end">1.5</text>
<line x1="51.90" y1="345.95" x2="53.50" y2="345.95" stroke="#6a6a6a" stroke-width="0.8"/>
<text x="49.50" y="348.85" font-size="6.2" font-family="'Liberation Sans', sans-serif" fill="#505050" text-anchor="end">0.5</text>
<line x1="51.90" y1="370.25" x2="53.50" y2="370.25" stroke="#6a6a6a" stroke-width="0.8"/>
<text x="49.50" y="373.15" font-size="6.2" font-family="'Liberation Sans', sans-serif" fill="#505050" text-anchor="end">- 0.5</text>
<line x1="51.90" y1="394.55" x2="53.50" y2="394.55" stroke="#6a6a6a" stroke-width="0.8"/>
<text x="49.50" y="397.45" font-size="6.2" font-family="'Liberation Sans', sans-serif" fill="#505050" text-anchor="end">- 1.5</text>
<line x1="53.50" y1="394.30" x2="53.50" y2="395.80" stroke="#6a6a6a" stroke-width="0.8"/>
<text x="54.50" y="402.90" font-size="6.2" font-family="'Liberation Sans', sans-serif" fill="#505050" text-anchor="middle">0</text>
<line x1="64.95" y1="394.30" x2="64.95" y2="395.80" stroke="#6a6a6a" stroke-width="0.8"/>
<line x1="76.40" y1="394.30" x2="76.40" y2="395.80" stroke="#6a6a6a" stroke-width="0.8"/>
<text x="77.40" y="402.90" font-size="6.2" font-family="'Liberation Sans', sans-serif" fill="#505050" text-anchor="middle">20</text>
<line x1="87.85" y1="394.30" x2="87.85" y2="395.80" stroke="#6a6a6a" stroke-width="0.8"/>
<line x1="99.30" y1="394.30" x2="99.30" y2="395.80" stroke="#6a6a6a" stroke-width="0.8"/>
<text x="100.30" y="402.90" font-size="6.2" font-family="'Liberation Sans', sans-serif" fill="#505050" text-anchor="middle">40</text>
<line x1="110.75" y1="394.30" x2="110.75" y2="395.80" stroke="#6a6a6a" stroke-width="0.8"/>
<line x1="122.20" y1="394.30" x2="122.20" y2="395.80" stroke="#6a6a6a" stroke-width="0.8"/>
<text x="123.20" y="402.90" font-size="6.2" font-family="'Liberation Sans', sans-serif" fill="#505050" text-anchor="middle">60</text>
<line x1="133.65" y1="394.30" x2="133.65" y2="395.80" stroke="#6a6a6a" stroke-width="0.8"/>
<line x1="145.10" y1="394.30" x2="145.10" y2="395.80" stroke="#6a6a6a" stroke-width="0.8"/>
<text x="146.10" y="402.90" font-size="6.2" font-family="'Liberation Sans', sans-serif" fill="#505050" text-anchor="middle">80</text>
<line x1="156.55" y1="394.30" x2="156.55" y2="395.80" stroke="#6a6a6a" stroke-width="0.8"/>
<line x1="168.00" y1="394.30" x2="168.00" y2="395.80" stroke="#6a6a6a" stroke-width="0.8"/>
<text x="169.00" y="402.90" font-size="6.2" font-family="'Liberation Sans', sans-serif" fill="#505050" text-anchor="middle">100</text>
<text x="60.60" y="305.40" font-size="9" font-family="'Liberation Serif', serif" fill="#1a1a1a" font-weight="700" textLength="96.80" lengthAdjust="spacingAndGlyphs">Hip Extension Moment</text>
<text x="88.30" y="414.70" font-size="7.5" font-family="'Liberation Serif', serif" fill="#262626" textLength="46.20" lengthAdjust="spacingAndGlyphs">Gaitphase (%)</text>
<text x="27.80" y="386.90" font-size="6.8" font-family="'Liberation Serif', serif" fill="#1a1a1a" font-weight="700" textLength="65.90" lengthAdjust="spacingAndGlyphs" transform="rotate(-90 27.80 386.90)">Hip moment (Nm/kg)</text>
<text x="38.20" y="367.80" font-size="7.2" font-family="'Liberation Serif', serif" fill="#1a1a1a" font-weight="700" textLength="22.40" lengthAdjust="spacingAndGlyphs" transform="rotate(-90 38.20 367.80)">Flx-Ext</text>
<path d="M53.70,351.30 C54.13,351.42 55.17,352.47 56.30,352.00 C57.43,351.53 58.97,349.80 60.50,348.50 C62.03,347.20 64.07,344.80 65.50,344.20 C66.93,343.60 67.80,344.18 69.10,344.90 C70.40,345.62 71.65,347.20 73.30,348.50 C74.95,349.80 77.10,351.57 79.00,352.70 C80.90,353.83 82.33,354.42 84.70,355.30 C87.07,356.18 90.60,356.77 93.20,358.00 C95.80,359.23 98.17,360.62 100.30,362.70 C102.43,364.78 104.23,367.72 106.00,370.50 C107.77,373.28 109.35,377.23 110.90,379.40 C112.45,381.57 113.82,383.13 115.30,383.50 C116.78,383.87 118.32,383.27 119.80,381.60 C121.28,379.93 122.73,376.20 124.20,373.50 C125.67,370.80 126.90,367.48 128.60,365.40 C130.30,363.32 132.20,362.15 134.40,361.00 C136.60,359.85 139.35,359.23 141.80,358.50 C144.25,357.77 146.90,357.78 149.10,356.60 C151.30,355.42 153.15,352.92 155.00,351.40 C156.85,349.88 158.73,347.73 160.20,347.50 C161.67,347.27 162.70,348.97 163.80,350.00 C164.90,351.03 166.10,352.87 166.80,353.70 C167.50,354.53 167.80,354.78 168.00,355.00" fill="none" stroke="#f01818" stroke-width="1.4" stroke-linejoin="round" stroke-linecap="round"/>
<path d="M53.70,342.80 C54.25,341.85 55.87,338.45 57.00,337.10 C58.13,335.75 59.32,334.70 60.50,334.70 C61.68,334.70 62.92,335.98 64.10,337.10 C65.28,338.22 66.30,339.75 67.60,341.40 C68.90,343.05 70.23,345.47 71.90,347.00 C73.57,348.53 75.47,349.53 77.60,350.60 C79.73,351.67 82.33,352.33 84.70,353.40 C87.07,354.47 89.67,355.82 91.80,357.00 C93.93,358.18 95.60,359.20 97.50,360.50 C99.40,361.80 101.45,363.50 103.20,364.80 C104.95,366.10 106.47,367.22 108.00,368.30 C109.53,369.38 110.57,370.15 112.40,371.30 C114.23,372.45 117.28,374.95 119.00,375.20 C120.72,375.45 121.35,374.43 122.70,372.80 C124.05,371.17 125.63,367.37 127.10,365.40 C128.57,363.43 129.78,362.10 131.50,361.00 C133.22,359.90 135.20,359.12 137.40,358.80 C139.60,358.48 142.25,359.05 144.70,359.10 C147.15,359.15 149.88,359.63 152.10,359.10 C154.32,358.57 156.05,357.42 158.00,355.90 C159.95,354.38 162.13,351.28 163.80,350.00 C165.47,348.72 167.30,348.50 168.00,348.20" fill="none" stroke="#1f1fe6" stroke-width="1.4" stroke-linejoin="round" stroke-linecap="round"/>
<path d="M227.90,370.30 C228.88,369.32 231.83,366.85 233.80,364.40 C235.77,361.95 237.98,357.52 239.70,355.60 C241.42,353.68 242.63,353.15 244.10,352.90 C245.57,352.65 246.78,352.92 248.50,354.10 C250.22,355.28 252.43,358.28 254.40,360.00 C256.37,361.72 258.35,363.18 260.30,364.40 C262.25,365.62 263.90,366.57 266.10,367.30 C268.30,368.03 270.38,368.43 273.50,368.80 C276.62,369.17 281.72,369.55 284.80,369.50 C287.88,369.45 289.47,368.83 292.00,368.50 C294.53,368.17 295.33,367.50 300.00,367.50 C304.67,367.50 313.53,367.92 320.00,368.50 C326.47,369.08 335.00,370.42 338.80,371.00 C342.60,371.58 342.13,371.83 342.80,372.00 L342.80,375.00 C342.13,375.18 342.60,376.85 338.80,376.10 C335.00,375.35 326.47,371.77 320.00,370.50 C313.53,369.23 304.70,368.42 300.00,368.50 C295.30,368.58 294.33,369.60 291.80,371.00 C289.27,372.40 286.63,376.17 284.80,376.90 C282.97,377.63 282.93,375.77 280.80,375.40 C278.67,375.03 275.18,375.18 272.00,374.70 C268.82,374.22 265.37,373.37 261.70,372.50 C258.03,371.63 253.67,370.12 250.00,369.50 C246.33,368.88 242.40,368.67 239.70,368.80 C237.00,368.93 235.77,369.57 233.80,370.30 C231.83,371.03 228.88,372.72 227.90,373.20 Z" fill="#cdf5cd" stroke="none"/>
<rect x="228.00" y="312.00" width="114.80" height="84.30" fill="none" stroke="#6a6a6a" stroke-width="1"/>
<line x1="246.30" y1="312.00" x2="246.30" y2="396.30" stroke="#777" stroke-width="0.9"/>
<line x1="284.80" y1="312.00" x2="284.80" y2="396.30" stroke="#777" stroke-width="0.9"/>
<line x1="300.60" y1="312.00" x2="300.60" y2="396.30" stroke="#777" stroke-width="0.9"/>
<line x1="228.00" y1="368.10" x2="342.80" y2="368.10" stroke="#777" stroke-width="0.9"/>
<line x1="226.40" y1="311.90" x2="228.00" y2="311.90" stroke="#6a6a6a" stroke-width="0.8"/>
<text x="223.30" y="314.80" font-size="6.2" font-family="'Liberation Sans', sans-serif" fill="#505050" text-anchor="end">2</text>
<line x1="226.40" y1="340.00" x2="228.00" y2="340.00" stroke="#6a6a6a" stroke-width="0.8"/>
<text x="223.30" y="342.90" font-size="6.2" font-family="'Liberation Sans', sans-serif" fill="#505050" text-anchor="end">1</text>
<line x1="226.40" y1="368.10" x2="228.00" y2="368.10" stroke="#6a6a6a" stroke-width="0.8"/>
<text x="223.30" y="371.00" font-size="6.2" font-family="'Liberation Sans', sans-serif" fill="#505050" text-anchor="end">0</text>
<line x1="226.40" y1="396.20" x2="228.00" y2="396.20" stroke="#6a6a6a" stroke-width="0.8"/>
<text x="223.30" y="399.10" font-size="6.2" font-family="'Liberation Sans', sans-serif" fill="#505050" text-anchor="end">- 1</text>
<line x1="228.00" y1="396.30" x2="228.00" y2="397.80" stroke="#6a6a6a" stroke-width="0.8"/>
<text x="229.00" y="404.90" font-size="6.2" font-family="'Liberation Sans', sans-serif" fill="#505050" text-anchor="middle">0</text>
<line x1="239.48" y1="396.30" x2="239.48" y2="397.80" stroke="#6a6a6a" stroke-width="0.8"/>
<line x1="250.96" y1="396.30" x2="250.96" y2="397.80" stroke="#6a6a6a" stroke-width="0.8"/>
<text x="251.96" y="404.90" font-size="6.2" font-family="'Liberation Sans', sans-serif" fill="#505050" text-anchor="middle">20</text>
<line x1="262.44" y1="396.30" x2="262.44" y2="397.80" stroke="#6a6a6a" stroke-width="0.8"/>
<line x1="273.92" y1="396.30" x2="273.92" y2="397.80" stroke="#6a6a6a" stroke-width="0.8"/>
<text x="274.92" y="404.90" font-size="6.2" font-family="'Liberation Sans', sans-serif" fill="#505050" text-anchor="middle">40</text>
<line x1="285.40" y1="396.30" x2="285.40" y2="397.80" stroke="#6a6a6a" stroke-width="0.8"/>
<line x1="296.88" y1="396.30" x2="296.88" y2="397.80" stroke="#6a6a6a" stroke-width="0.8"/>
<text x="297.88" y="404.90" font-size="6.2" font-family="'Liberation Sans', sans-serif" fill="#505050" text-anchor="middle">60</text>
<line x1="308.36" y1="396.30" x2="308.36" y2="397.80" stroke="#6a6a6a" stroke-width="0.8"/>
<line x1="319.84" y1="396.30" x2="319.84" y2="397.80" stroke="#6a6a6a" stroke-width="0.8"/>
<text x="320.84" y="404.90" font-size="6.2" font-family="'Liberation Sans', sans-serif" fill="#505050" text-anchor="middle">80</text>
<line x1="331.32" y1="396.30" x2="331.32" y2="397.80" stroke="#6a6a6a" stroke-width="0.8"/>
<line x1="342.80" y1="396.30" x2="342.80" y2="397.80" stroke="#6a6a6a" stroke-width="0.8"/>
<text x="343.80" y="404.90" font-size="6.2" font-family="'Liberation Sans', sans-serif" fill="#505050" text-anchor="middle">100</text>
<text x="231.50" y="306.50" font-size="9" font-family="'Liberation Serif', serif" fill="#1a1a1a" font-weight="700" textLength="102.60" lengthAdjust="spacingAndGlyphs">Knee Extension Moment</text>
<text x="262.50" y="415.70" font-size="7.5" font-family="'Liberation Serif', serif" fill="#262626" textLength="46.70" lengthAdjust="spacingAndGlyphs">Gait phase (%)</text>
<text x="204.00" y="398.70" font-size="6.8" font-family="'Liberation Serif', serif" fill="#1a1a1a" font-weight="700" textLength="72.30" lengthAdjust="spacingAndGlyphs" transform="rotate(-90 204.00 398.70)">Knee moment (Nm/kg)</text>
<text x="214.60" y="377.20" font-size="7.2" font-family="'Liberation Serif', serif" fill="#1a1a1a" font-weight="700" textLength="21.40" lengthAdjust="spacingAndGlyphs" transform="rotate(-90 214.60 377.20)">Flx-Ext</text>
<path d="M227.90,372.20 C228.63,372.48 230.58,373.25 232.30,373.90 C234.02,374.55 235.98,375.43 238.20,376.10 C240.42,376.77 242.90,377.17 245.60,377.90 C248.30,378.63 251.47,379.62 254.40,380.50 C257.33,381.38 260.52,382.50 263.20,383.20 C265.88,383.90 268.30,384.35 270.50,384.70 C272.70,385.05 274.68,385.50 276.40,385.30 C278.12,385.10 279.70,384.10 280.80,383.50 C281.90,382.90 281.90,382.80 283.00,381.70 C284.10,380.60 285.93,378.68 287.40,376.90 C288.87,375.12 290.20,372.80 291.80,371.00 C293.40,369.20 295.53,367.08 297.00,366.10 C298.47,365.12 299.02,365.02 300.60,365.10 C302.18,365.18 304.28,366.03 306.50,366.60 C308.72,367.17 311.45,367.93 313.90,368.50 C316.35,369.07 318.77,369.47 321.20,370.00 C323.63,370.53 326.17,371.12 328.50,371.70 C330.83,372.28 333.48,373.37 335.20,373.50 C336.92,373.63 337.58,373.03 338.80,372.50 C340.02,371.97 341.88,370.67 342.50,370.30" fill="none" stroke="#f01818" stroke-width="1.4" stroke-linejoin="round" stroke-linecap="round"/>
<path d="M227.90,376.90 C228.40,377.08 229.78,378.13 230.90,378.00 C232.02,377.87 233.25,377.27 234.60,376.10 C235.95,374.93 237.53,372.27 239.00,371.00 C240.47,369.73 242.07,368.92 243.40,368.50 C244.73,368.08 245.67,368.08 247.00,368.50 C248.33,368.92 249.68,370.02 251.40,371.00 C253.12,371.98 255.08,373.42 257.30,374.40 C259.52,375.38 262.25,376.32 264.70,376.90 C267.15,377.48 269.32,377.72 272.00,377.90 C274.68,378.08 278.97,378.05 280.80,378.00 C282.63,377.95 281.90,378.28 283.00,377.60 C284.10,376.92 285.93,375.62 287.40,373.90 C288.87,372.18 290.20,369.18 291.80,367.30 C293.40,365.42 295.53,363.20 297.00,362.60 C298.47,362.00 299.27,362.78 300.60,363.70 C301.93,364.62 303.65,367.05 305.00,368.10 C306.35,369.15 307.22,369.83 308.70,370.00 C310.18,370.17 311.82,369.10 313.90,369.10 C315.98,369.10 318.77,369.68 321.20,370.00 C323.63,370.32 326.05,370.58 328.50,371.00 C330.95,371.42 333.68,372.08 335.90,372.50 C338.12,372.92 340.82,373.33 341.80,373.50" fill="none" stroke="#1f1fe6" stroke-width="1.4" stroke-linejoin="round" stroke-linecap="round"/>
<line x1="397.50" y1="268.30" x2="527.60" y2="268.30" stroke="#d9d9d9" stroke-width="0.8"/>
<text x="391.30" y="270.30" font-size="6.6" font-family="'Liberation Serif', serif" fill="#404040" text-anchor="end" stroke="#404040" stroke-width="0.2">0</text>
<line x1="397.50" y1="259.04" x2="527.60" y2="259.04" stroke="#d9d9d9" stroke-width="0.8"/>
<text x="391.30" y="261.04" font-size="6.6" font-family="'Liberation Serif', serif" fill="#404040" text-anchor="end" stroke="#404040" stroke-width="0.2">10</text>
<line x1="397.50" y1="249.79" x2="527.60" y2="249.79" stroke="#d9d9d9" stroke-width="0.8"/>
<text x="391.30" y="251.79" font-size="6.6" font-family="'Liberation Serif', serif" fill="#404040" text-anchor="end" stroke="#404040" stroke-width="0.2">20</text>
<line x1="397.50" y1="240.53" x2="527.60" y2="240.53" stroke="#d9d9d9" stroke-width="0.8"/>
<text x="391.30" y="242.53" font-size="6.6" font-family="'Liberation Serif', serif" fill="#404040" text-anchor="end" stroke="#404040" stroke-width="0.2">30</text>
<line x1="397.50" y1="231.28" x2="527.60" y2="231.28" stroke="#d9d9d9" stroke-width="0.8"/>
<text x="391.30" y="233.28" font-size="6.6" font-family="'Liberation Serif', serif" fill="#404040" text-anchor="end" stroke="#404040" stroke-width="0.2">40</text>
<line x1="397.50" y1="222.02" x2="527.60" y2="222.02" stroke="#d9d9d9" stroke-width="0.8"/>
<text x="391.30" y="224.02" font-size="6.6" font-family="'Liberation Serif', serif" fill="#404040" text-anchor="end" stroke="#404040" stroke-width="0.2">50</text>
<line x1="397.50" y1="212.77" x2="527.60" y2="212.77" stroke="#d9d9d9" stroke-width="0.8"/>
<text x="391.30" y="214.77" font-size="6.6" font-family="'Liberation Serif', serif" fill="#404040" text-anchor="end" stroke="#404040" stroke-width="0.2">60</text>
<line x1="397.50" y1="203.51" x2="527.60" y2="203.51" stroke="#d9d9d9" stroke-width="0.8"/>
<text x="391.30" y="205.51" font-size="6.6" font-family="'Liberation Serif', serif" fill="#404040" text-anchor="end" stroke="#404040" stroke-width="0.2">70</text>
<line x1="397.50" y1="194.26" x2="527.60" y2="194.26" stroke="#d9d9d9" stroke-width="0.8"/>
<text x="391.30" y="196.26" font-size="6.6" font-family="'Liberation Serif', serif" fill="#404040" text-anchor="end" stroke="#404040" stroke-width="0.2">80</text>
<line x1="397.50" y1="185.00" x2="527.60" y2="185.00" stroke="#d9d9d9" stroke-width="0.8"/>
<text x="391.30" y="187.00" font-size="6.6" font-family="'Liberation Serif', serif" fill="#404040" text-anchor="end" stroke="#404040" stroke-width="0.2">90</text>
<line x1="397.50" y1="185.00" x2="397.50" y2="268.30" stroke="#d9d9d9" stroke-width="0.8"/>
<line x1="397.50" y1="268.30" x2="397.50" y2="270.30" stroke="#d9d9d9" stroke-width="0.8"/>
<text x="397.50" y="279.20" font-size="6.6" font-family="'Liberation Serif', serif" fill="#404040" text-anchor="middle" stroke="#404040" stroke-width="0.2">0</text>
<line x1="423.66" y1="268.30" x2="423.66" y2="270.30" stroke="#d9d9d9" stroke-width="0.8"/>
<text x="423.66" y="279.20" font-size="6.6" font-family="'Liberation Serif', serif" fill="#404040" text-anchor="middle" stroke="#404040" stroke-width="0.2">20</text>
<line x1="449.82" y1="268.30" x2="449.82" y2="270.30" stroke="#d9d9d9" stroke-width="0.8"/>
<text x="449.82" y="279.20" font-size="6.6" font-family="'Liberation Serif', serif" fill="#404040" text-anchor="middle" stroke="#404040" stroke-width="0.2">40</text>
<line x1="475.98" y1="268.30" x2="475.98" y2="270.30" stroke="#d9d9d9" stroke-width="0.8"/>
<text x="475.98" y="279.20" font-size="6.6" font-family="'Liberation Serif', serif" fill="#404040" text-anchor="middle" stroke="#404040" stroke-width="0.2">60</text>
<line x1="502.14" y1="268.30" x2="502.14" y2="270.30" stroke="#d9d9d9" stroke-width="0.8"/>
<text x="502.14" y="279.20" font-size="6.6" font-family="'Liberation Serif', serif" fill="#404040" text-anchor="middle" stroke="#404040" stroke-width="0.2">80</text>
<line x1="528.30" y1="268.30" x2="528.30" y2="270.30" stroke="#d9d9d9" stroke-width="0.8"/>
<text x="528.30" y="279.20" font-size="6.6" font-family="'Liberation Serif', serif" fill="#404040" text-anchor="middle" stroke="#404040" stroke-width="0.2">100</text>
<text x="418.70" y="182.20" font-size="8.7" font-family="'Liberation Serif', serif" fill="#111" font-weight="700" textLength="84.00" lengthAdjust="spacingAndGlyphs">Flx. / Ext. nozzle angle</text>
<text x="435.80" y="289.00" font-size="7.8" font-family="'Liberation Serif', serif" fill="#404040" textLength="47.50" lengthAdjust="spacingAndGlyphs" stroke="#404040" stroke-width="0.2">Gait phase (%)</text>
<text x="376.90" y="261.80" font-size="7.9" font-family="'Liberation Serif', serif" fill="#222" font-weight="700" textLength="62.10" lengthAdjust="spacingAndGlyphs" transform="rotate(-90 376.90 261.80)">Nozzle angle (Deg)</text>
<path d="M397.5,249.79 L510.8,249.79 L511.6,203.51 L527.6,203.51" fill="none" stroke="#6a6a6a" stroke-width="0.9" stroke-dasharray="1.6,0.8"/>
<path d="M397.5,212.77 L446.6,212.77 L447.8,193.33 L464.1,193.33 L465.8,249.79 L489.9,249.79 L491.2,194.26 L518.0,194.26 L519.4,212.77 L527.6,212.77" fill="none" stroke="#595959" stroke-width="1.1"/>
<rect x="398.2" y="224.3" width="62" height="21.2" fill="#fff"/>
<line x1="409.90" y1="229.30" x2="419.00" y2="229.30" stroke="#6a6a6a" stroke-width="1.5"/>
<text x="420.20" y="231.20" font-size="6.2" font-family="'Liberation Serif', serif" fill="#404040" textLength="38.60" lengthAdjust="spacingAndGlyphs" stroke="#404040" stroke-width="0.15">Flx. Noz. angle</text>
<line x1="409.90" y1="239.40" x2="419.00" y2="239.40" stroke="#6a6a6a" stroke-width="0.9" stroke-dasharray="1.6,0.8"/>
<text x="420.20" y="241.30" font-size="6.2" font-family="'Liberation Serif', serif" fill="#404040" textLength="38.60" lengthAdjust="spacingAndGlyphs" stroke="#404040" stroke-width="0.15">Ext. Noz. angle</text>
<line x1="396.50" y1="313.20" x2="530.80" y2="313.20" stroke="#d9d9d9" stroke-width="0.8"/>
<text x="390.80" y="315.20" font-size="6.6" font-family="'Liberation Serif', serif" fill="#404040" text-anchor="end" stroke="#404040" stroke-width="0.2">2</text>
<line x1="396.50" y1="326.80" x2="530.80" y2="326.80" stroke="#d9d9d9" stroke-width="0.8"/>
<text x="390.80" y="328.80" font-size="6.6" font-family="'Liberation Serif', serif" fill="#404040" text-anchor="end" stroke="#404040" stroke-width="0.2">1.5</text>
<line x1="396.50" y1="340.40" x2="530.80" y2="340.40" stroke="#d9d9d9" stroke-width="0.8"/>
<text x="390.80" y="342.40" font-size="6.6" font-family="'Liberation Serif', serif" fill="#404040" text-anchor="end" stroke="#404040" stroke-width="0.2">1</text>
<line x1="396.50" y1="354.00" x2="530.80" y2="354.00" stroke="#d9d9d9" stroke-width="0.8"/>
<text x="390.80" y="356.00" font-size="6.6" font-family="'Liberation Serif', serif" fill="#404040" text-anchor="end" stroke="#404040" stroke-width="0.2">0.5</text>
<line x1="396.50" y1="367.60" x2="530.80" y2="367.60" stroke="#d9d9d9" stroke-width="0.8"/>
<text x="390.80" y="369.60" font-size="6.6" font-family="'Liberation Serif', serif" fill="#404040" text-anchor="end" stroke="#404040" stroke-width="0.2">0</text>
<line x1="396.50" y1="381.20" x2="530.80" y2="381.20" stroke="#d9d9d9" stroke-width="0.8"/>
<text x="390.80" y="383.20" font-size="6.6" font-family="'Liberation Serif', serif" fill="#404040" text-anchor="end" stroke="#404040" stroke-width="0.2">- 0.5</text>
<line x1="396.50" y1="394.80" x2="530.80" y2="394.80" stroke="#d9d9d9" stroke-width="0.8"/>
<text x="390.80" y="396.80" font-size="6.6" font-family="'Liberation Serif', serif" fill="#404040" text-anchor="end" stroke="#404040" stroke-width="0.2">- 1</text>
<line x1="396.50" y1="313.20" x2="396.50" y2="394.80" stroke="#d9d9d9" stroke-width="0.8"/>
<text x="396.80" y="406.20" font-size="6.6" font-family="'Liberation Serif', serif" fill="#404040" text-anchor="middle" stroke="#404040" stroke-width="0.2">0</text>
<text x="423.40" y="406.20" font-size="6.6" font-family="'Liberation Serif', serif" fill="#404040" text-anchor="middle" stroke="#404040" stroke-width="0.2">20</text>
<text x="450.00" y="406.20" font-size="6.6" font-family="'Liberation Serif', serif" fill="#404040" text-anchor="middle" stroke="#404040" stroke-width="0.2">40</text>
<text x="476.60" y="406.20" font-size="6.6" font-family="'Liberation Serif', serif" fill="#404040" text-anchor="middle" stroke="#404040" stroke-width="0.2">60</text>
<text x="503.20" y="406.20" font-size="6.6" font-family="'Liberation Serif', serif" fill="#404040" text-anchor="middle" stroke="#404040" stroke-width="0.2">80</text>
<text x="529.80" y="406.20" font-size="6.6" font-family="'Liberation Serif', serif" fill="#404040" text-anchor="middle" stroke="#404040" stroke-width="0.2">100</text>
<text x="433.50" y="308.60" font-size="8.7" font-family="'Liberation Serif', serif" fill="#111" font-weight="700" textLength="55.90" lengthAdjust="spacingAndGlyphs">Ankle moment</text>
<text x="438.40" y="416.90" font-size="7.8" font-family="'Liberation Serif', serif" fill="#404040" textLength="45.80" lengthAdjust="spacingAndGlyphs" stroke="#404040" stroke-width="0.2">Gait phase (%)</text>
<text x="375.90" y="398.00" font-size="7.9" font-family="'Liberation Serif', serif" fill="#404040" textLength="76.60" lengthAdjust="spacingAndGlyphs" transform="rotate(-90 375.90 398.00)" stroke="#404040" stroke-width="0.2">Ankle moment (Nm/kg)</text>
<line x1="417.00" y1="322.40" x2="423.80" y2="322.40" stroke="#505050" stroke-width="1.2"/>
<text x="424.50" y="324.50" font-size="6.6" font-family="'Liberation Serif', serif" fill="#404040" textLength="56.80" lengthAdjust="spacingAndGlyphs" stroke="#404040" stroke-width="0.15">Ankle Mom. Sensor</text>
<polyline points="396.5,364.0 397.6,369.8 399.8,373.1 403.1,375.6 405.6,374.0 408.1,371.5 412.2,370.6 415.6,368.1 421.4,368.1 423.9,365.7 427.2,359.9 430.5,354.9 434.6,350.7 440.4,348.6 447.1,347.4 453.7,345.8 460.3,343.3 463.3,343.6 466.6,347.4 469.1,351.6 471.6,356.5 474.9,359.9 478.3,363.2 480.7,367.3 483.2,371.5 487.4,375.6 493.2,374.8 503.1,373.6 514.8,372.8 530.5,372.3" fill="none" stroke="#4d4d4d" stroke-width="1.2" stroke-linejoin="round"/>
<text x="532.30" y="347.50" font-size="8.7" font-family="'Liberation Serif', serif" fill="#000" font-weight="700" textLength="14.50" lengthAdjust="spacingAndGlyphs">Dor</text>
<text x="533.40" y="394.40" font-size="8.7" font-family="'Liberation Serif', serif" fill="#000" font-weight="700" textLength="11.90" lengthAdjust="spacingAndGlyphs">Pla</text>
<path d="M539.6,349.6 L545.7,356.6 L542.2,356.6 L542.2,365.2 L537.0,365.2 L537.0,356.6 L533.4,356.6 Z" fill="#000"/>
<path d="M539.6,385.9 L545.7,378.9 L542.2,378.9 L542.2,369.9 L537.0,369.9 L537.0,378.9 L533.4,378.9 Z" fill="#000"/>
</svg>
</body></html>
